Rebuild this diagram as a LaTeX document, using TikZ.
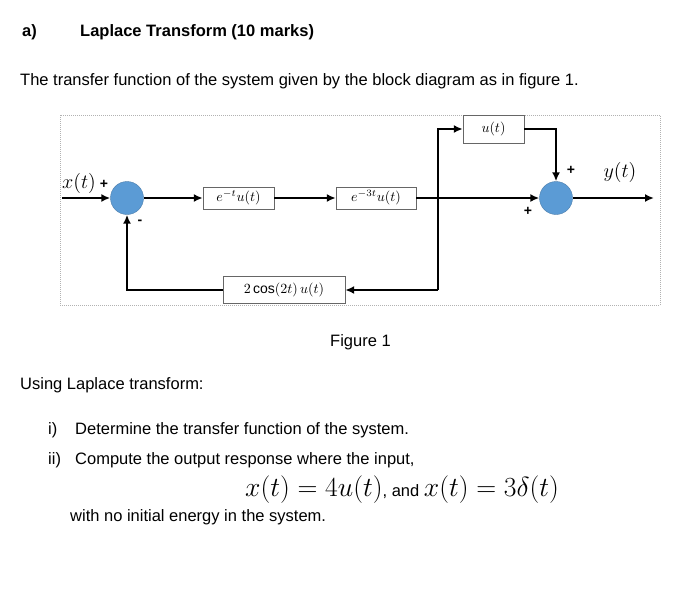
\documentclass[tikz,border=0pt]{standalone}
\usepackage{fontspec}
\setmainfont{Liberation Sans}
\usetikzlibrary{arrows.meta}
\definecolor{sumblue}{HTML}{5B9BD5}
\newcommand{\bm}[1]{\scalebox{1.4}{$#1$}}
\newcommand{\tm}[1]{\scalebox{1.6}{$#1$}}
\begin{document}
\begin{tikzpicture}[x=1pt,y=-1pt,
  txt/.style={anchor=west,font=\fontsize{16.5}{19}\selectfont,inner sep=0},
  blk/.style={draw=black!60,fill=white,minimum height=22pt,inner sep=2pt},
  sum/.style={circle,fill=sumblue,draw=sumblue!80!black,minimum size=33pt,inner sep=0},
  sig/.style={line width=2.2pt,-{Latex[length=9pt,width=8pt]}},
  wire/.style={line width=2.2pt},
  lbl/.style={font=\fontsize{14}{16}\selectfont,inner sep=0}]
\useasboundingbox (0,0) rectangle (700,607);
\fill[white] (0,0) rectangle (700,607);
% header and text
\node[txt,font=\fontsize{16.5}{19}\selectfont\bfseries] (qa) at (22,32) {a)};
\node[txt,font=\fontsize{16.5}{19}\selectfont\bfseries] (qt) at (80,32) {Laplace Transform (10 marks)};
\node[txt] (intro) at (20,81) {The transfer function of the system given by the block diagram as in figure 1.};
\node[txt] (fig) at (330,342) {Figure 1};
\node[txt] (using) at (20,385) {Using Laplace transform:};
\node[txt] (i1) at (48,430) {i)};
\node[txt] (i2) at (75,430) {Determine the transfer function of the system.};
\node[txt] (ii1) at (48,460) {ii)};
\node[txt] (ii2) at (75,460) {Compute the output response where the input,};
\node[txt] (eq) at (245,490) {\tm{x(t)=4u(t)}, and \tm{x(t)=3\delta(t)}};
\node[txt] (last) at (70,517) {with no initial energy in the system.};
% frame
\draw[black!30,densely dotted,line width=1pt] (60,115) rectangle (660,305);
% blocks
\node[sum] (s1) at (127,198) {};
\node[sum] (s2) at (556,198) {};
\node[blk,minimum width=71pt] (b1) at (238.5,198) {\bm{e^{-t}u(t)}};
\node[blk,minimum width=80pt] (b2) at (376,198) {\bm{e^{-3t}u(t)}};
\node[blk,minimum width=61pt,minimum height=28pt] (bu) at (493.5,129) {\bm{u(t)}};
\node[blk,minimum width=122pt,minimum height=27pt] (bf) at (284,290) {\bm{2\cos(2t)\,u(t)}};
\coordinate (in) at (62,198);
\coordinate (out) at (654,198);
\coordinate (j) at (438,198);
% connectors
\draw[sig] (in) -- (s1);
\draw[sig] (s1) -- (b1);
\draw[sig] (b1) -- (b2);
\draw[sig] (b2) -- (s2);
\draw[sig] (s2) -- (out);
\draw[sig] (j |- bf) |- (bu);
\draw[sig] (bu.east) -| (s2);
\draw[wire] (j) -- (j |- bf);
\draw[sig] (j |- bf) -- (bf);
\draw[sig] (bf) -| (s1);
% labels
\node[lbl,anchor=west] (lx) at (62,183) {\bm{x(t)}\ \textbf{+}};
\node[lbl] (lm) at (140,222) {\textbf{-}};
\node[lbl] (lp1) at (571,170) {\textbf{+}};
\node[lbl] (lp2) at (528,211) {\textbf{+}};
\node[lbl] (ly) at (620,172) {\bm{y(t)}};
\end{tikzpicture}
\end{document}
